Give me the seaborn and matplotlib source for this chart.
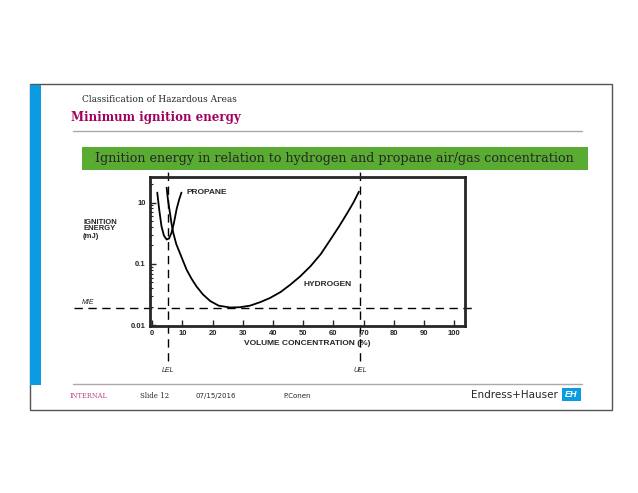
import matplotlib.pyplot as plt
import matplotlib.patches as mpatches
import seaborn as sns

# curves (volume %, energy mJ)
h2_conc = [4.8, 5.3, 5.9, 6.4, 7.0, 8.0, 9.2, 10.3, 11.4, 13.0, 14.7, 16.8, 19.2, 22.0, 25.8,
           29.0, 32.4, 35.8, 39.0, 42.5, 45.7, 49.0, 52.4, 55.8, 59.0, 62.0, 64.6, 66.6, 68.4]
h2_energy = [1.74, 1.05, 0.68, 0.46, 0.32, 0.21, 0.15, 0.11, 0.081, 0.058, 0.043, 0.032, 0.025,
             0.021, 0.0196, 0.0198, 0.021, 0.024, 0.028, 0.035, 0.046, 0.063, 0.092, 0.145, 0.25,
             0.42, 0.68, 1.0, 1.5]
c3_conc = [1.7, 2.3, 3.1, 3.9, 4.8, 5.6, 6.4, 7.2, 8.1, 8.9, 9.7]
c3_energy = [1.45, 0.8, 0.41, 0.29, 0.25, 0.26, 0.32, 0.46, 0.78, 1.1, 1.45]
lel, uel, mie = 5.1, 68.7, 0.0195
x_ticks = [0, 10, 20, 30, 40, 50, 60, 70, 80, 90, 100]
x_labels = ["0", "10", "20", "30", "40", "50", "60", "|70", "80", "90", "100"]
y_ticks = [0.01, 0.1, 1]
y_labels = ["0.01", "0.1", "10"]

sns.set_style("white")
plt.rcParams["font.family"] = ["Liberation Sans", "DejaVu Sans"]

fig = plt.figure(figsize=(6.38, 4.93), dpi=100)
W, H = 638, 493

def fx(px):
    return px / W

def fy(py):
    return 1 - py / H

# slide frame
fig.patches.append(mpatches.Rectangle((fx(30), fy(410)), fx(582), 326 / H, transform=fig.transFigure,
                                      fill=False, ec="#555555", lw=1))
fig.patches.append(mpatches.Rectangle((fx(30), fy(385)), fx(11), 300 / H, transform=fig.transFigure,
                                      color="#0a9be0", lw=0))
fig.add_artist(plt.Line2D([fx(73), fx(582)], [fy(131), fy(131)], color="#aaaaaa", lw=1))
fig.add_artist(plt.Line2D([fx(73), fx(582)], [fy(384), fy(384)], color="#aaaaaa", lw=1))
fig.text(fx(82), fy(99), "Classification of Hazardous Areas", fontsize=6.5,
         family="DejaVu Serif", va="center")
fig.text(fx(71), fy(117), "Minimum ignition energy", fontsize=8.5, fontweight="bold",
         color="#a3005e", family="DejaVu Serif", va="center")
fig.patches.append(mpatches.Rectangle((fx(82), fy(170)), fx(506), 23 / H, transform=fig.transFigure,
                                      color="#5aab32", lw=0))
fig.text(fx(334), fy(159), "Ignition energy in relation to hydrogen and propane air/gas concentration",
         fontsize=9.2, family="DejaVu Serif", ha="center", va="center")
fig.text(fx(70), fy(396), "INTERNAL", fontsize=4.8, color="#c0458a", family="DejaVu Serif", va="center")
fig.text(fx(140), fy(396), "Slide 12", fontsize=5, family="DejaVu Serif", va="center")
fig.text(fx(195), fy(396), "07/15/2016", fontsize=5, family="DejaVu Sans", va="center")
fig.text(fx(283), fy(396), "P.Conen", fontsize=5, family="DejaVu Sans", va="center")
fig.text(fx(558), fy(395), "Endress+Hauser", fontsize=7.5, family="DejaVu Sans", ha="right", va="center")
fig.patches.append(mpatches.Rectangle((fx(562), fy(401)), fx(19), 13 / H, transform=fig.transFigure,
                                      color="#0a9be0", lw=0))
fig.text(fx(571.5), fy(394.5), "EH", fontsize=6.5, color="white", fontweight="bold",
         style="italic", ha="center", va="center")

# chart
ax = fig.add_axes([fx(150), fy(326), fx(315), 149 / H])
sns.lineplot(x=h2_conc, y=h2_energy, ax=ax, color="black", lw=1.3, sort=False)
sns.lineplot(x=c3_conc, y=c3_energy, ax=ax, color="black", lw=1.3, sort=False)
ax.set_yscale("log")
ax.set_xlim(-0.7, 103.5)
ax.set_ylim(0.0098, 2.6)
dash = dict(color="black", lw=1, ls=(0, (6, 4)), clip_on=False)
ax.plot([lel, lel], [0.0026, 4.0], **dash)
ax.plot([uel, uel], [0.0026, 4.0], **dash)
ax.plot([-26, 107], [mie, mie], **dash)
for s in ax.spines.values():
    s.set_linewidth(2)
ax.set_xticks(x_ticks)
ax.set_xticklabels(x_labels, fontsize=5.5, fontweight="bold")
ax.set_yticks(y_ticks)
ax.set_yticklabels(y_labels, fontsize=5.5, fontweight="bold")
ax.tick_params(axis="both", which="major", length=4, width=1, direction="in", pad=3, left=True, bottom=True)
ax.tick_params(axis="y", which="minor", length=2, width=0.8, direction="in", left=True)
ax.set_xlabel("VOLUME CONCENTRATION (%)", fontsize=6, fontweight="bold", labelpad=2)
fig.text(fx(83), fy(229), "IGNITION\nENERGY\n(mJ)", fontsize=5.5, fontweight="bold",
         va="center", linespacing=1.0)
fig.text(fx(82), fy(303), "MIE", fontsize=5, style="italic", va="center")
ax.text(lel, -0.31, "LEL", transform=ax.get_xaxis_transform(), fontsize=5, style="italic", ha="center")
ax.text(uel, -0.31, "UEL", transform=ax.get_xaxis_transform(), fontsize=5, style="italic", ha="center")
ax.text(11.5, 1.45, "PROPANE", fontsize=6, fontweight="bold", va="center")
ax.text(50, 0.046, "HYDROGEN", fontsize=6, fontweight="bold", va="center")

fig.savefig("out.png", dpi=100)
